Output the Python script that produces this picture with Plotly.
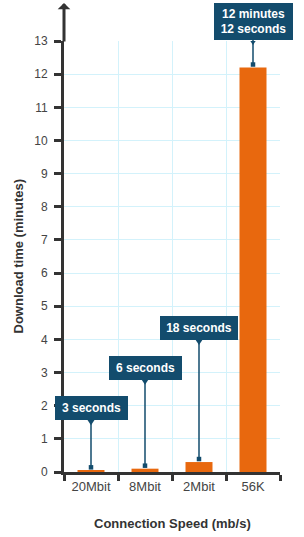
import plotly.graph_objects as go

# ---- data ----
categories = ["20Mbit", "8Mbit", "2Mbit", "56K"]
download_minutes = [0.05, 0.1, 0.3, 12.2]
callout_texts = ["3 seconds", "6 seconds", "18 seconds", "12 minutes<br>12 seconds"]
y_ticks = list(range(0, 14))

# ---- styles / layout positions ----
FONT = "Arial, Liberation Sans, sans-serif"
ORANGE = "#E8680E"
NAVY = "#134C6D"
AXIS = "#333333"
GRID = "#d3f2fb"

# callout box offsets (px above the point) and box sizes (px)
box_ay = [-62, -101, -134, -46]
box_w = [73, 73, 78, 79]
box_h = [24, 24, 24, 37]

fig = go.Figure()
fig.add_trace(go.Bar(
    x=categories, y=download_minutes,
    marker=dict(color=ORANGE, line=dict(width=0)),
    hoverinfo="skip",
))

annotations = []
shapes = []
for i, (cat, val, txt, ay, w, h) in enumerate(zip(categories, download_minutes, callout_texts, box_ay, box_w, box_h)):
    annotations.append(dict(
        x=cat, y=val, xref="x", yref="y",
        text="<b>%s</b>" % txt,
        font=dict(family=FONT, size=12, color="white"),
        showarrow=True, ax=0, ay=ay,
        arrowhead=7, arrowsize=0.75, arrowwidth=1.5, arrowcolor=NAVY,
        standoff=3,
        bgcolor=NAVY, bordercolor=NAVY, borderwidth=1, borderpad=0,
        width=w - 2, height=h - 2, align="center", valign="middle",
    ))
    base = -ay - h / 2 + 1
    shapes.append(dict(
        type="path", xref="x", yref="y",
        xsizemode="pixel", ysizemode="pixel", xanchor=i, yanchor=val,
        path="M -4 %.1f L 4 %.1f L 0 %.1f Z" % (base, base, base - 6),
        fillcolor=NAVY, line=dict(width=0), layer="above",
    ))

# y-axis arrow at top
annotations.append(dict(
    x=0, y=1.088, xref="paper", yref="paper", text="",
    showarrow=True, ax=0, ay=40, arrowhead=1, arrowsize=0.7,
    arrowwidth=3, arrowcolor=AXIS,
))
# axis titles
annotations.append(dict(
    x=0, y=0.5, xref="paper", yref="paper", xshift=-46,
    text="<b>Download time (minutes)</b>", textangle=-90, showarrow=False,
    font=dict(family=FONT, size=13, color="#333"), xanchor="center", yanchor="middle",
))
annotations.append(dict(
    x=0.5, y=0, xref="paper", yref="paper", yshift=-51,
    text="<b>Connection Speed (mb/s)</b>", showarrow=False,
    font=dict(family=FONT, size=13, color="#333"), xanchor="center", yanchor="middle",
))

fig.update_layout(
    width=304, height=537,
    margin=dict(l=64, r=24, t=41, b=65),
    paper_bgcolor="white", plot_bgcolor="white",
    showlegend=False, bargap=0.5,
    annotations=annotations, shapes=shapes,
    font=dict(family=FONT),
)
fig.update_xaxes(
    type="category", tickson="boundaries", tickangle=0,
    range=[-0.5, len(categories) - 0.5], autorange=False,
    showgrid=True, gridcolor=GRID, gridwidth=1,
    showline=True, linecolor=AXIS, linewidth=3,
    ticks="outside", ticklen=6, tickwidth=3, tickcolor=AXIS,
    tickfont=dict(family=FONT, size=13, color="#444"),
    fixedrange=True,
)
fig.update_yaxes(
    range=[0, 13], autorange=False, tickvals=y_ticks,
    showgrid=True, gridcolor=GRID, gridwidth=1, zeroline=False,
    showline=True, linecolor=AXIS, linewidth=3,
    ticks="outside", ticklen=7, tickwidth=3, tickcolor=AXIS,
    tickfont=dict(family=FONT, size=12, color="#444"),
    ticklabelstandoff=4,
    fixedrange=True,
)

fig.write_html("out.html", config={"displayModeBar": False})
